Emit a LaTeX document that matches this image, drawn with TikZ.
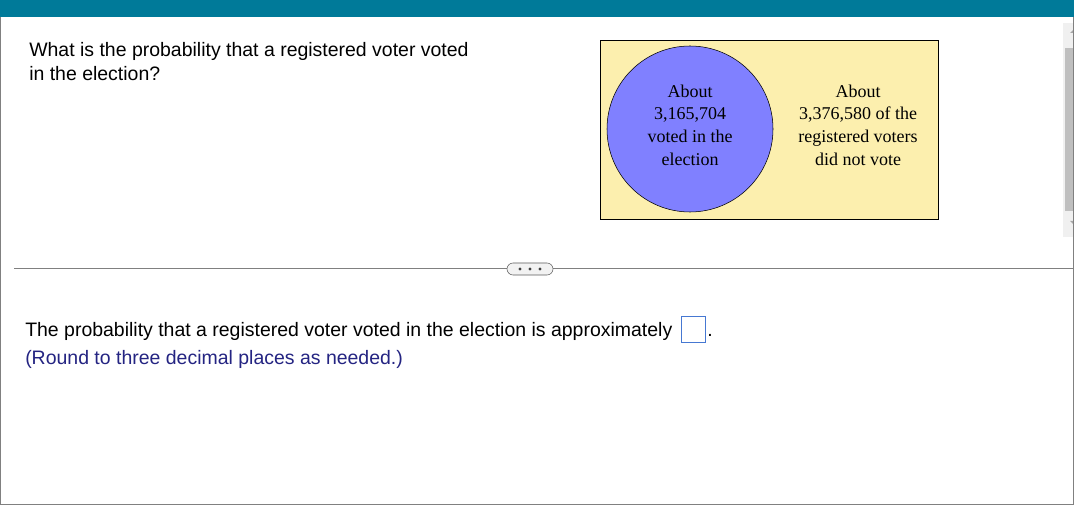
\documentclass[tikz,border=0pt]{standalone}
\usepackage{fontspec}
\setmainfont{Liberation Sans}
\newfontfamily\venfont{Liberation Serif}
\usetikzlibrary{calc}
\definecolor{barteal}{RGB}{0,122,153}
\definecolor{venyellow}{RGB}{252,239,174}
\definecolor{venblue}{RGB}{128,128,255}
\definecolor{hintblue}{RGB}{36,36,130}
\definecolor{framegray}{RGB}{128,128,128}
\definecolor{boxblue}{RGB}{70,120,210}
\tikzset{
  qtext/.style={anchor=base west, inner sep=0pt, font=\fontsize{14.6}{17}\selectfont},
  ventext/.style={align=center, inner sep=0pt, font=\venfont\fontsize{13.5}{17}\selectfont},
}
\begin{document}
\begin{tikzpicture}[x=0.75pt,y=-0.75pt]
\useasboundingbox (0,0) rectangle (1074,505);
\fill[white] (0,0) rectangle (1074,505);
\fill[barteal] (0,0) rectangle (1074,17);
\fill[gray!12] (1063,23) rectangle (1073,237);
\fill[gray!50] (1065,48) rectangle (1073,211);
\fill[gray!70] (1070,33)--(1073,30)--(1073,33)--cycle;
\fill[gray!70] (1070,221)--(1073,221)--(1073,224)--cycle;
\draw[framegray] (0.5,17)--(0.5,504.5)--(1073.5,504.5)--(1073.5,17);
\node[qtext] (q1) at (29,57) {What is the probability that a registered voter voted};
\node[qtext] (q2) at (29,81) {in the election?};
\draw[fill=venyellow] (600,40) rectangle (938,219);
\node[circle, draw, fill=venblue, minimum size=166*0.75pt, inner sep=0pt] (voted) at (690,129) {};
\node[ventext] (votedtxt) at (690,125) {About\\3,165,704\\voted in the\\election};
\node[ventext] (nottxt) at (858,125) {About\\3,376,580 of the\\registered voters\\did not vote};
\draw[framegray] (14,268.5)--(1073,268.5);
\node[draw=gray!70!black, fill=gray!10, rounded corners=6*0.75pt, minimum width=46*0.75pt, minimum height=12*0.75pt, inner sep=0pt] (more) at (530,269) {};
\foreach \dx in {-10,0,10}
  \fill[gray!50!black] ($(more.center)+(\dx,0)$) circle (1.7*0.75pt);
\node[qtext] (ans) at (25,337) {The probability that a registered voter voted in the election is approximately};
\node[draw=boxblue, minimum width=24*0.75pt, minimum height=26*0.75pt, inner sep=0pt, anchor=north west] (ansbox) at (681,316) {};
\node[qtext] (dot) at (707,337) {.};
\node[qtext, text=hintblue] (hint) at (25,365) {(Round to three decimal places as needed.)};
\end{tikzpicture}
\end{document}
